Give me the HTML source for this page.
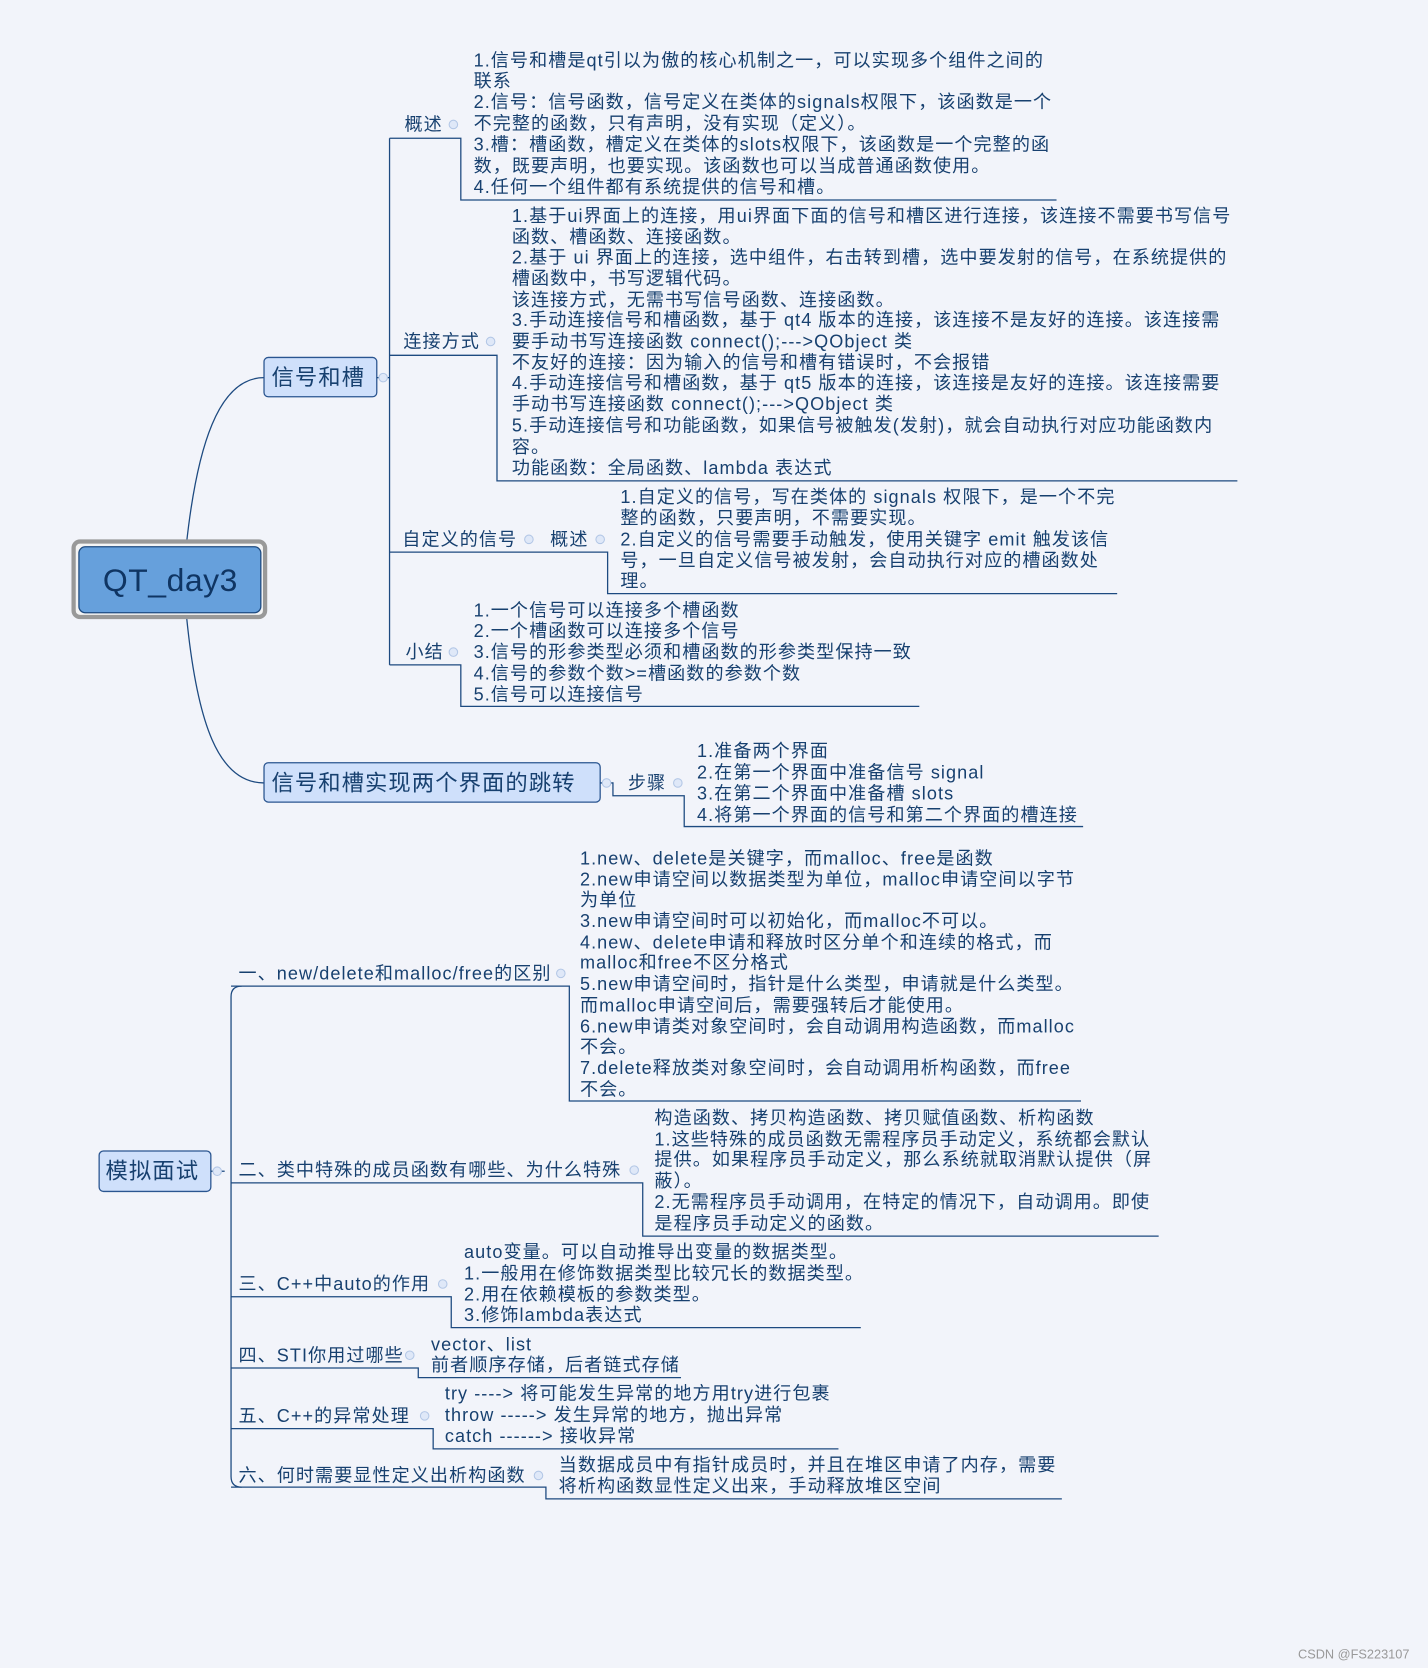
<!DOCTYPE html>
<html><head><meta charset="utf-8"><style>
html,body{margin:0;padding:0;background:#f2f4fa;}
svg{display:block}
text{font-family:"Liberation Sans","Noto Sans CJK SC",sans-serif;fill:#17406f;font-size:17px;letter-spacing:1px;dominant-baseline:central}
.l{fill:none;stroke:#1d4a80;stroke-width:1.2}
.c{fill:#dfe8f8;stroke:#b3c7e6;stroke-width:1}
</style></head><body>
<svg width="1428" height="1668" viewBox="0 0 1342 1568" xmlns="http://www.w3.org/2000/svg" xml:space="preserve">
<rect width="1342" height="1568" fill="#f2f4fa"/>
<path class="l" d="M175,512 C185,420 205,355 248,355"/>
<path class="l" d="M175,578 C185,680 205,736 248,736"/>
<rect x="69" y="509" width="180" height="71" rx="6" fill="#f4f4f4" stroke="#999" stroke-width="4"/>
<rect x="74" y="514" width="171" height="62" rx="6" fill="#66a0dc" stroke="#1d4a80" stroke-width="1.2"/>
<text x="160" y="545" text-anchor="middle" style="font-size:30px;letter-spacing:0.5px;fill:#0f3563">QT_day3</text>

<rect x="248" y="336" width="106" height="37" rx="4" fill="#cfe0fb" stroke="#2a5590" stroke-width="1.2"/>
<text x="255" y="355" style="font-size:21px">信号和槽</text>
<path class="l" d="M354,355 H366"/>
<circle class="c" cx="360" cy="355" r="4"/>
<path class="l" d="M366,130 V625"/>
<text x="380" y="117">概述</text><circle class="c" cx="426" cy="117" r="4"/>
<path class="l" d="M366,130 H433 V188 H993"/>
<text x="445" y="57">1.信号和槽是qt引以为傲的核心机制之一，可以实现多个组件之间的</text>
<text x="445" y="76">联系</text>
<text x="445" y="96">2.信号：信号函数，信号定义在类体的signals权限下，该函数是一个</text>
<text x="445" y="116">不完整的函数，只有声明，没有实现（定义）。</text>
<text x="445" y="136">3.槽：槽函数，槽定义在类体的slots权限下，该函数是一个完整的函</text>
<text x="445" y="156">数，既要声明，也要实现。该函数也可以当成普通函数使用。</text>
<text x="445" y="176">4.任何一个组件都有系统提供的信号和槽。</text>
<text x="379" y="321">连接方式</text><circle class="c" cx="461" cy="321" r="4"/>
<path class="l" d="M366,334 H467 V452 H1163"/>
<text x="481" y="203">1.基于ui界面上的连接，用ui界面下面的信号和槽区进行连接，该连接不需要书写信号</text>
<text x="481" y="223"> 函数、槽函数、连接函数。</text>
<text x="481" y="242">2.基于 ui 界面上的连接，选中组件，右击转到槽，选中要发射的信号，在系统提供的</text>
<text x="481" y="262"> 槽函数中，书写逻辑代码。</text>
<text x="481" y="282"> 该连接方式，无需书写信号函数、连接函数。</text>
<text x="481" y="301">3.手动连接信号和槽函数，基于 qt4 版本的连接，该连接不是友好的连接。该连接需</text>
<text x="481" y="321">要手动书写连接函数 connect();---&gt;QObject 类</text>
<text x="481" y="341">不友好的连接：因为输入的信号和槽有错误时，不会报错</text>
<text x="481" y="360">4.手动连接信号和槽函数，基于 qt5 版本的连接，该连接是友好的连接。该连接需要</text>
<text x="481" y="380">手动书写连接函数 connect();---&gt;QObject 类</text>
<text x="481" y="400">5.手动连接信号和功能函数，如果信号被触发(发射)，就会自动执行对应功能函数内</text>
<text x="481" y="420">  容。</text>
<text x="481" y="440">功能函数：全局函数、lambda 表达式</text>
<text x="378" y="507">自定义的信号</text><circle class="c" cx="497" cy="507" r="4"/>
<text x="517" y="507">概述</text><circle class="c" cx="564" cy="507" r="4"/>
<path class="l" d="M366,519 H571 V558 H1050"/>
<text x="583" y="467">1.自定义的信号，写在类体的 signals 权限下，是一个不完</text>
<text x="583" y="487"> 整的函数，只要声明，不需要实现。</text>
<text x="583" y="507">2.自定义的信号需要手动触发，使用关键字 emit 触发该信</text>
<text x="583" y="527">号，一旦自定义信号被发射，会自动执行对应的槽函数处</text>
<text x="583" y="546"> 理。</text>
<text x="381" y="613">小结</text><circle class="c" cx="426" cy="613" r="4"/>
<path class="l" d="M366,625 H433 V664 H864"/>
<text x="445" y="574">1.一个信号可以连接多个槽函数</text>
<text x="445" y="593">2.一个槽函数可以连接多个信号</text>
<text x="445" y="613">3.信号的形参类型必须和槽函数的形参类型保持一致</text>
<text x="445" y="633">4.信号的参数个数&gt;=槽函数的参数个数</text>
<text x="445" y="653">5.信号可以连接信号</text>

<rect x="248" y="717" width="316" height="37" rx="4" fill="#cfe0fb" stroke="#2a5590" stroke-width="1.2"/>
<text x="255" y="736" style="font-size:21px">信号和槽实现两个界面的跳转</text>
<path class="l" d="M564,736 H576 V748 H643 V777 H1018"/>
<circle class="c" cx="570" cy="736" r="4"/>
<text x="590" y="736">步骤</text><circle class="c" cx="637" cy="736" r="4"/>
<text x="655" y="706">1.准备两个界面</text>
<text x="655" y="726">2.在第一个界面中准备信号 signal</text>
<text x="655" y="746">3.在第二个界面中准备槽 slots</text>
<text x="655" y="766">4.将第一个界面的信号和第二个界面的槽连接</text>

<rect x="93" y="1082" width="105" height="38" rx="4" fill="#cfe0fb" stroke="#2a5590" stroke-width="1.2"/>
<text x="99" y="1101" style="font-size:21px">模拟面试</text>
<path class="l" d="M198,1101 H211"/>
<circle class="c" cx="204" cy="1101" r="4"/>
<path class="l" d="M227,927 Q217,927 217,937 V1388 Q217,1398 227,1398"/>
<text x="224" y="915">一、new/delete和malloc/free的区别</text><circle class="c" cx="527" cy="915" r="4"/>
<path class="l" d="M217,927 H535 V1035 H1016"/>
<text x="545" y="807">1.new、delete是关键字，而malloc、free是函数</text>
<text x="545" y="827">2.new申请空间以数据类型为单位，malloc申请空间以字节</text>
<text x="545" y="846"> 为单位</text>
<text x="545" y="866">3.new申请空间时可以初始化，而malloc不可以。</text>
<text x="545" y="886">4.new、delete申请和释放时区分单个和连续的格式，而</text>
<text x="545" y="905">malloc和free不区分格式</text>
<text x="545" y="925"> 5.new申请空间时，指针是什么类型，申请就是什么类型。</text>
<text x="545" y="945"> 而malloc申请空间后，需要强转后才能使用。</text>
<text x="545" y="965">6.new申请类对象空间时，会自动调用构造函数，而malloc</text>
<text x="545" y="984">  不会。</text>
<text x="545" y="1004">7.delete释放类对象空间时，会自动调用析构函数，而free</text>
<text x="545" y="1024">  不会。</text>
<text x="224" y="1100">二、类中特殊的成员函数有哪些、为什么特殊</text><circle class="c" cx="596" cy="1100" r="4"/>
<path class="l" d="M217,1112 H604 V1162 H1089"/>
<text x="615" y="1051">构造函数、拷贝构造函数、拷贝赋值函数、析构函数</text>
<text x="615" y="1071">1.这些特殊的成员函数无需程序员手动定义，系统都会默认</text>
<text x="615" y="1090">提供。如果程序员手动定义，那么系统就取消默认提供（屏</text>
<text x="615" y="1110">  蔽）。</text>
<text x="615" y="1130">2.无需程序员手动调用，在特定的情况下，自动调用。即使</text>
<text x="615" y="1150"> 是程序员手动定义的函数。</text>
<text x="224" y="1207">三、C++中auto的作用</text><circle class="c" cx="416" cy="1207" r="4"/>
<path class="l" d="M217,1219 H424 V1248 H809"/>
<text x="436" y="1177">auto变量。可以自动推导出变量的数据类型。</text>
<text x="436" y="1197">1.一般用在修饰数据类型比较冗长的数据类型。</text>
<text x="436" y="1217"> 2.用在依赖模板的参数类型。</text>
<text x="436" y="1236">3.修饰lambda表达式</text>
<text x="224" y="1274">四、STI你用过哪些</text><circle class="c" cx="385" cy="1274" r="4"/>
<path class="l" d="M217,1286 H393 V1295 H640"/>
<text x="405" y="1264">vector、list</text>
<text x="405" y="1283">前者顺序存储，后者链式存储</text>
<text x="224" y="1331">五、C++的异常处理</text><circle class="c" cx="399" cy="1331" r="4"/>
<path class="l" d="M217,1343 H407 V1362 H788"/>
<text x="418" y="1310">try  ----&gt; 将可能发生异常的地方用try进行包裹</text>
<text x="418" y="1330">throw  -----&gt; 发生异常的地方，抛出异常</text>
<text x="418" y="1350">catch ------&gt; 接收异常</text>
<text x="224" y="1387">六、何时需要显性定义出析构函数</text><circle class="c" cx="506" cy="1387" r="4"/>
<path class="l" d="M217,1398 H513 V1409 H998"/>
<text x="525" y="1377">当数据成员中有指针成员时，并且在堆区申请了内存，需要</text>
<text x="525" y="1397">将析构函数显性定义出来，手动释放堆区空间</text>

<text x="1220" y="1555" style="font-size:12px;letter-spacing:0;fill:#999">CSDN @FS223107</text>
</svg>
</body></html>
